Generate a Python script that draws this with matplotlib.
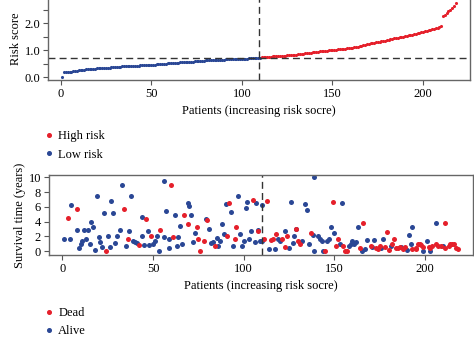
import numpy as np
import matplotlib
matplotlib.use('Agg')
import matplotlib.pyplot as plt
from matplotlib.lines import Line2D

plt.rcParams['font.family'] = ['Liberation Serif', 'DejaVu Serif']
plt.rcParams['font.size'] = 9

RED = '#e5202b'
BLUE = '#2a4795'

# Risk scores, sorted (patients 1..110 low risk, 111..218 high risk)
low_risk = [0.02, 0.18, 0.19, 0.19, 0.20, 0.21, 0.22, 0.23, 0.24, 0.25,
            0.26, 0.27, 0.28, 0.29, 0.30, 0.31, 0.31, 0.32, 0.32, 0.33,
            0.33, 0.34, 0.34, 0.35, 0.35, 0.36, 0.36, 0.37, 0.37, 0.38,
            0.38, 0.39, 0.39, 0.40, 0.40, 0.41, 0.41, 0.41, 0.42, 0.42,
            0.43, 0.43, 0.43, 0.44, 0.44, 0.45, 0.45, 0.45, 0.46, 0.46,
            0.47, 0.47, 0.48, 0.48, 0.49, 0.49, 0.50, 0.50, 0.51, 0.51,
            0.52, 0.52, 0.53, 0.53, 0.54, 0.55, 0.55, 0.56, 0.56, 0.57,
            0.57, 0.58, 0.58, 0.59, 0.59, 0.60, 0.60, 0.61, 0.61, 0.62,
            0.62, 0.62, 0.63, 0.63, 0.64, 0.64, 0.64, 0.65, 0.65, 0.65,
            0.66, 0.66, 0.66, 0.67, 0.67, 0.67, 0.68, 0.68, 0.68, 0.68,
            0.69, 0.69, 0.69, 0.70, 0.70, 0.70, 0.70, 0.71, 0.71, 0.71]
high_risk = [0.74, 0.74, 0.75, 0.75, 0.76, 0.76, 0.77, 0.77, 0.78, 0.78,
             0.79, 0.79, 0.80, 0.80, 0.81, 0.81, 0.82, 0.83, 0.83, 0.84,
             0.85, 0.86, 0.86, 0.87, 0.88, 0.89, 0.90, 0.91, 0.92, 0.93,
             0.94, 0.95, 0.96, 0.97, 0.98, 0.98, 0.99, 1.00, 1.00, 1.01,
             1.02, 1.02, 1.03, 1.04, 1.04, 1.05, 1.06, 1.07, 1.08, 1.09,
             1.10, 1.11, 1.12, 1.13, 1.14, 1.16, 1.18, 1.20, 1.22, 1.24,
             1.26, 1.27, 1.28, 1.30, 1.31, 1.32, 1.33, 1.35, 1.36, 1.38,
             1.39, 1.41, 1.42, 1.44, 1.45, 1.46, 1.48, 1.49, 1.51, 1.52,
             1.54, 1.55, 1.56, 1.58, 1.60, 1.61, 1.63, 1.64, 1.66, 1.68,
             1.70, 1.72, 1.74, 1.76, 1.78, 1.80, 1.82, 1.84, 1.86, 1.90,
             2.26, 2.32, 2.40, 2.45, 2.50, 2.58, 2.66, 2.74]
risk_cutoff = 0.73
split_patient = 110

# Survival time by patient: (patient, years)
dead_x = [3, 8, 24, 34, 36, 42, 46, 49, 54, 60, 61, 67, 69, 74, 75, 76, 78, 80, 84,
          91, 92, 95, 96, 105, 108, 111, 113, 115, 116, 118, 121, 123, 124, 129, 130,
          131, 137, 145, 149, 151, 152, 155, 156, 157, 164, 166, 170, 173, 174, 175,
          178, 179, 180, 182, 183, 184, 185, 186, 188, 189, 193, 195, 195, 196, 197,
          198, 199, 202, 203, 204, 206, 207, 209, 211, 211, 213, 214, 215, 216, 217, 218]
dead_y = [4.5, 5.7, 0.05, 5.65, 1.7, 0.85, 4.4, 2.05, 2.85, 8.9, 1.85, 4.85, 3.65, 3.2,
          1.7, 0.0, 1.4, 4.2, 0.75, 2.1, 6.55, 1.6, 3.3, 6.9, 2.7, 1.6, 6.8, 1.45, 1.65,
          2.3, 1.7, 0.55, 2.1, 3.0, 1.3, 0.95, 2.4, 0.0, 6.65, 0.75, 1.6, 0.65, 0.0, 0.0,
          0.45, 3.75, 0.75, 0.45, 0.3, 0.75, 0.5, 2.55, 0.1, 0.95, 1.6, 0.45, 0.4, 0.6,
          0.3, 0.5, 0.25, 0.25, 0.45, 0.9, 1.0, 0.85, 0.55, 0.5, 0.4, 0.75, 1.0, 0.75,
          0.65, 3.75, 0.4, 0.65, 0.95, 1.0, 1.0, 0.45, 0.25]
alive_x = [1, 4, 5, 8, 9, 10, 11, 12, 13, 14, 15, 16, 17, 18, 19, 20, 21, 22, 23, 25,
           26, 27, 28, 29, 30, 32, 33, 35, 37, 38, 39, 40, 41, 44, 44, 45, 47, 48, 50,
           51, 52, 53, 56, 56, 57, 59, 59, 62, 63, 64, 65, 66, 69, 70, 71, 72, 73, 79,
           81, 82, 83, 85, 86, 87, 88, 89, 90, 93, 94, 97, 98, 99, 100, 101, 102, 103,
           104, 106, 107, 108, 109, 110, 110, 114, 117, 119, 120, 123, 125, 126, 127,
           128, 129, 132, 134, 135, 136, 138, 139, 139, 141, 142, 143, 144, 146, 147,
           148, 150, 153, 154, 158, 159, 160, 161, 162, 163, 165, 167, 168, 171, 172,
           176, 177, 181, 187, 190, 191, 192, 193, 199, 201, 203, 206, 210]
alive_y = [1.6, 1.6, 6.3, 2.85, 0.4, 0.95, 1.3, 2.85, 1.7, 2.85, 1.0, 4.0, 3.2, 0.2,
           7.5, 1.95, 1.2, 0.5, 5.2, 2.1, 0.5, 6.8, 5.1, 1.1, 2.0, 2.85, 8.9, 0.7, 2.7,
           7.5, 1.4, 1.2, 1.05, 2.1, 4.65, 0.85, 2.7, 0.85, 1.0, 1.4, 2.1, 0.0, 9.45,
           1.95, 5.4, 0.4, 1.7, 4.85, 0.75, 1.85, 3.4, 0.95, 6.55, 6.1, 4.85, 1.2, 2.4,
           4.4, 3.0, 1.05, 1.2, 1.75, 0.65, 1.4, 3.65, 2.3, 6.45, 5.3, 0.75, 7.5, 2.3,
           0.65, 1.3, 5.9, 6.65, 1.7, 2.7, 1.2, 6.55, 2.85, 1.3, 6.3, 1.3, 0.3, 0.3, 1.6,
           1.3, 2.7, 0.45, 6.65, 1.05, 2.1, 2.95, 1.4, 6.4, 5.55, 1.0, 2.2, 0.0, 10.0,
           2.1, 1.7, 1.3, 0.0, 1.3, 1.65, 3.2, 2.4, 0.95, 6.55, 0.75, 0.95, 1.3, 0.95,
           1.2, 3.3, 0.0, 0.3, 1.5, 0.5, 1.5, 0.4, 1.6, 0.75, 0.6, 0.1, 2.2, 0.95, 3.3,
           0.0, 1.35, 0.0, 3.75, 0.75]

fig = plt.figure(figsize=(4.74, 3.4), dpi=100)
ax1 = fig.add_axes([0.101, 0.765, 0.891, 0.241])
ax2 = fig.add_axes([0.103, 0.25, 0.895, 0.235])

# Top: risk score
low_x = np.arange(1, len(low_risk) + 1)
high_x = np.arange(len(low_risk) + 1, len(low_risk) + len(high_risk) + 1)
ax1.scatter(low_x, low_risk, s=5, color=BLUE, linewidths=0)
ax1.scatter(high_x, high_risk, s=5, color=RED, linewidths=0)
ax1.axhline(risk_cutoff, color='#333333', ls=(0, (5, 3)), lw=1)
ax1.axvline(split_patient - 0.5, color='#333333', ls=(0, (5, 3)), lw=1)
ax1.set_xlim(-7, 226)
ax1.set_ylim(-0.1, 2.94)
ax1.set_yticks([0, 0.5, 1.0, 1.5, 2.0, 2.5])
ax1.set_yticklabels(['0.0', '', '1.0', '', '2.0', ''])
ax1.set_xticks([0, 50, 100, 150, 200])
ax1.set_ylabel('Risk score', labelpad=2)
ax1.set_xlabel('Patients (increasing risk socre)', labelpad=4)

# Bottom: survival
ax2.scatter(alive_x, alive_y, s=13, color=BLUE, linewidths=0)
ax2.scatter(dead_x, dead_y, s=13, color=RED, linewidths=0)
ax2.axvline(split_patient, color='#333333', ls=(0, (5, 3)), lw=1)
ax2.set_xlim(-7.5, 226.5)
ax2.set_ylim(-0.54, 10.31)
ax2.set_yticks([0, 2, 4, 6, 8, 10])
ax2.set_xticks([0, 50, 100, 150, 200])
ax2.set_ylabel('Survival time (years)', labelpad=2)
ax2.set_xlabel('Patients (increasing risk socre)', labelpad=4)

for ax in (ax1, ax2):
    for sp in ax.spines.values():
        sp.set_color('#666666')
        sp.set_linewidth(1)
    ax.tick_params(direction='out', length=3.5, width=0.8, color='#555555',
                   labelsize=9, pad=2)

def dot(c):
    return Line2D([], [], ls='', marker='o', markersize=2.6, color=c)

fig.legend([dot(RED), dot(BLUE)], ['High risk', 'Low risk'], loc='upper left',
           bbox_to_anchor=(0.07, 1 - 119 / 340), frameon=False, handlelength=0.8,
           handletextpad=0.3, labelspacing=0.5, fontsize=9)
fig.legend([dot(RED), dot(BLUE)], ['Dead', 'Alive'], loc='upper left',
           bbox_to_anchor=(0.07, 1 - 296 / 340), frameon=False, handlelength=0.8,
           handletextpad=0.3, labelspacing=0.5, fontsize=9)

fig.savefig('out.png', dpi=100)
